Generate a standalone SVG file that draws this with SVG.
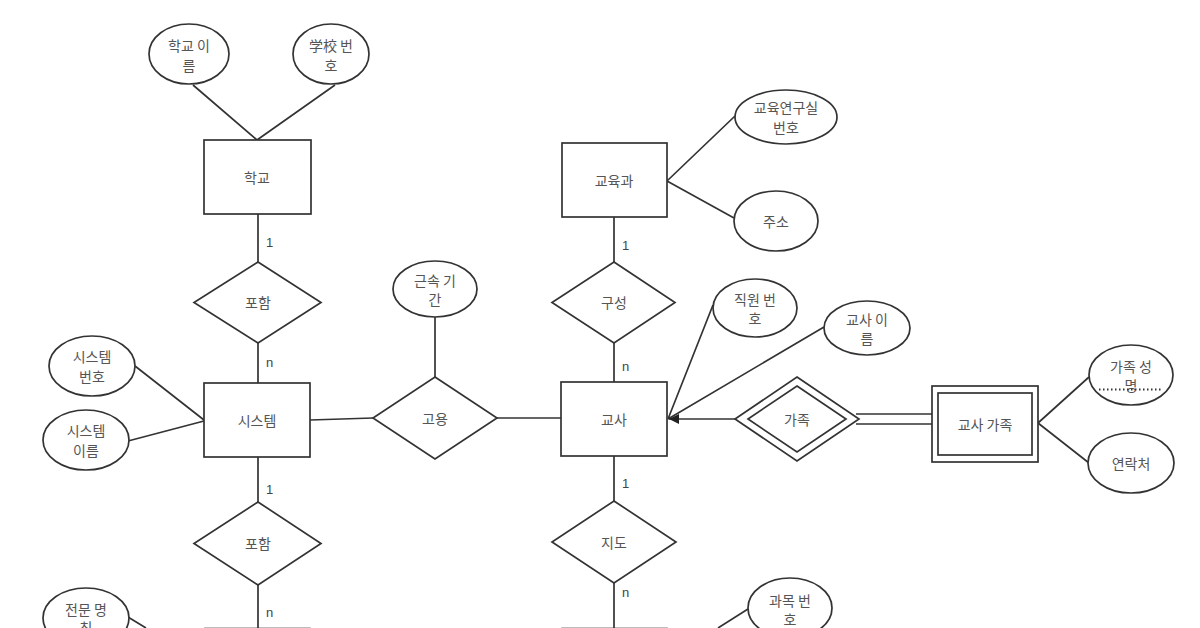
<svg xmlns="http://www.w3.org/2000/svg" width="1200" height="628" viewBox="0 0 1200 628">
<defs>
<style>
.s{fill:#fff;stroke:#333;stroke-width:1.7}
.c{stroke:#333;stroke-width:1.7;fill:none}
.t{font-family:"Noto Sans CJK KR","Noto Sans",sans-serif;font-size:14px;fill:#555;text-anchor:middle;dominant-baseline:central}
.l{font-family:"Liberation Sans",Arial,sans-serif;font-size:13px;fill:#444}
</style>
<marker id="ah" viewBox="0 0 10 10" refX="10" refY="5" markerWidth="10" markerHeight="10" markerUnits="userSpaceOnUse" orient="auto">
<path d="M0,0 L10,5 L0,10 z" fill="#222"/>
</marker>
</defs>
<rect width="1200" height="628" fill="#fff"/>
<g id="connectors">
<path class="c" d="M193,85 L257,140 M335,85 L257,140"/>
<path class="c" d="M258,214 L258,262 M258,343 L258,383"/>
<path class="c" d="M135,366 L204,420 M128,441 L204,421"/>
<path class="c" d="M310,420 L373,418 M497,418 L561,418"/>
<path class="c" d="M435,317 L435,377"/>
<path class="c" d="M614,217 L614,262 M614,343 L614,382"/>
<path class="c" d="M667,181 L735,116 M667,181 L734,218"/>
<path class="c" d="M713,305 L668,419 M824,327 L668,419"/>
<path class="c" d="M735,419 L669,419" marker-end="url(#ah)"/>
<path class="c" d="M856,414 L932,414 M856,424 L932,424"/>
<path class="c" d="M1038,423 L1089,377 M1038,423 L1089,463"/>
<path class="c" d="M258,457 L258,502 M258,585 L258,628"/>
<path class="c" d="M614,456 L614,501 M614,583 L614,628"/>
<path class="c" d="M128,617 L146,628 M748,609 L718,628"/>
<text class="l" x="266" y="247">1</text>
<text class="l" x="266" y="367">n</text>
<text class="l" x="622" y="250">1</text>
<text class="l" x="622" y="371">n</text>
<text class="l" x="266" y="494">1</text>
<text class="l" x="266" y="617">n</text>
<text class="l" x="622" y="488">1</text>
<text class="l" x="622" y="597">n</text>
</g>
<g id="school"><rect class="s" x="204" y="140" width="107" height="74"/><text class="t" x="257" y="177">학교</text></g>
<g id="school-name"><ellipse class="s" cx="189" cy="54" rx="40" ry="30"/><text class="t" x="189" y="45">학교 이</text><text class="t" x="189" y="65">름</text></g>
<g id="school-no"><ellipse class="s" cx="331" cy="54" rx="38" ry="30"/><text class="t" x="331" y="45">学校 번</text><text class="t" x="331" y="65">호</text></g>
<g id="include1"><polygon class="s" points="258,262 321,302.5 258,343 194,302.5"/><text class="t" x="258" y="302">포함</text></g>
<g id="system"><rect class="s" x="204" y="383" width="106" height="74"/><text class="t" x="257" y="420">시스템</text></g>
<g id="system-no"><ellipse class="s" cx="92" cy="366" rx="43" ry="30"/><text class="t" x="92" y="356">시스템</text><text class="t" x="92" y="376">번호</text></g>
<g id="system-name"><ellipse class="s" cx="86" cy="440" rx="43" ry="30"/><text class="t" x="86" y="430">시스템</text><text class="t" x="86" y="450">이름</text></g>
<g id="employ"><polygon class="s" points="435,377 497,418 435,459 373,418"/><text class="t" x="435" y="418">고용</text></g>
<g id="tenure"><ellipse class="s" cx="435" cy="289" rx="42" ry="28"/><text class="t" x="435" y="280">근속 기</text><text class="t" x="435" y="299">간</text></g>
<g id="dept"><rect class="s" x="562" y="143" width="105" height="74"/><text class="t" x="614" y="180">교육과</text></g>
<g id="lab-no"><ellipse class="s" cx="786" cy="117" rx="51" ry="27"/><text class="t" x="786" y="107">교육연구실</text><text class="t" x="786" y="127">번호</text></g>
<g id="address"><ellipse class="s" cx="776" cy="221" rx="42" ry="30"/><text class="t" x="776" y="221">주소</text></g>
<g id="compose"><polygon class="s" points="614,262 675,302.5 614,343 552,302.5"/><text class="t" x="614" y="302">구성</text></g>
<g id="teacher"><rect class="s" x="561" y="382" width="106" height="74"/><text class="t" x="614" y="419">교사</text></g>
<g id="staff-no"><ellipse class="s" cx="755" cy="308" rx="42" ry="29"/><text class="t" x="755" y="299">직원 번</text><text class="t" x="755" y="318">호</text></g>
<g id="teacher-name"><ellipse class="s" cx="867" cy="328" rx="43" ry="27"/><text class="t" x="867" y="319">교사 이</text><text class="t" x="867" y="338">름</text></g>
<g id="family-rel"><polygon class="s" points="797,377 859,419 797,461 735,419"/><polygon class="s" points="797,386 846,419 797,452 748,419"/><text class="t" x="797" y="419">가족</text></g>
<g id="teacher-family"><rect class="s" x="932" y="386" width="106" height="76"/><rect class="s" x="938" y="393" width="94" height="62"/><text class="t" x="985" y="424">교사 가족</text></g>
<g id="family-name"><ellipse class="s" cx="1131" cy="375" rx="42" ry="30"/><text class="t" x="1131" y="366">가족 성</text><text class="t" x="1131" y="385">명</text><line x1="1099" y1="389.5" x2="1161" y2="389.5" stroke="#333" stroke-width="1.8" stroke-dasharray="1.5,2.5"/></g>
<g id="contact"><ellipse class="s" cx="1131" cy="463" rx="43" ry="30"/><text class="t" x="1131" y="463">연락처</text></g>
<g id="include2"><polygon class="s" points="258,502 321,543.5 258,585 194,543.5"/><text class="t" x="258" y="543">포함</text></g>
<g id="major-name"><ellipse class="s" cx="86" cy="618" rx="43" ry="30"/><text class="t" x="86" y="609">전문 명</text><text class="t" x="86" y="627">칭</text></g>
<g id="system-child"><rect class="s" x="205" y="628.2" width="105" height="74" stroke-opacity="0.5"/></g>
<g id="guide"><polygon class="s" points="614,501 676,542 614,583 552,542"/><text class="t" x="614" y="542">지도</text></g>
<g id="course-no"><ellipse class="s" cx="790" cy="608" rx="42" ry="30"/><text class="t" x="790" y="600">과목 번</text><text class="t" x="790" y="619">호</text></g>
<g id="teacher-child"><rect class="s" x="562" y="628.2" width="105" height="74" stroke-opacity="0.5"/></g>
</svg>
